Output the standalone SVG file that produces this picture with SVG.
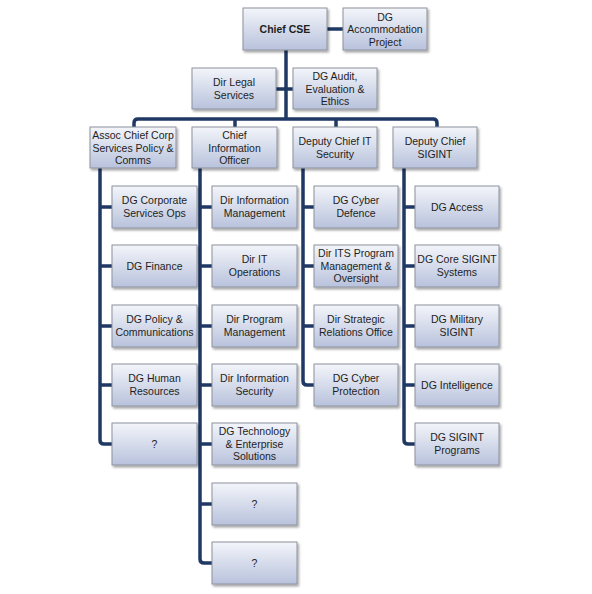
<svg xmlns="http://www.w3.org/2000/svg" width="592" height="594" viewBox="0 0 592 594">
<defs>
<linearGradient id="g" x1="0" y1="0" x2="0" y2="1">
<stop offset="0" stop-color="#f3f5fa"/>
<stop offset="1" stop-color="#b8c2dc"/>
</linearGradient>
<filter id="sh" x="-10%" y="-10%" width="130%" height="140%">
<feDropShadow dx="1.5" dy="2" stdDeviation="1.2" flood-color="#000" flood-opacity="0.35"/>
</filter>
</defs>
<style>
rect.b{fill:url(#g);stroke:#8c929c;stroke-width:1;filter:url(#sh)}
text{font-family:"Liberation Sans",Arial,sans-serif;font-size:10.5px;fill:#1e1e1e;text-anchor:middle}
text.bold{font-weight:bold}
.c path,.c line{stroke:#1f3864;stroke-width:3.5;fill:none}
</style>
<rect width="592" height="594" fill="#fff"/>
<g class="c" id="connectors">
<line x1="327" y1="29" x2="343" y2="29"/>
<line x1="286" y1="50" x2="286" y2="120"/>
<line x1="276" y1="89" x2="293" y2="89"/>
<path d="M134 128 V123 Q134 119 138 119 H433 Q437 119 437 123 V128"/>
<line x1="235" y1="119" x2="235" y2="128"/>
<line x1="336" y1="119" x2="336" y2="128"/>
<path d="M100 168 V440 Q100 444 104 444 H112 M100 207 H112 M100 266 H112 M100 326 H112 M100 385 H112"/>
<path d="M200 168 V559 Q200 563 204 563 H212 M200 207 H212 M200 266 H212 M200 326 H212 M200 385 H212 M200 444 H212 M200 504 H212"/>
<path d="M303 168 V381 Q303 385 307 385 H314 M303 207 H314 M303 266 H314 M303 326 H314"/>
<path d="M404 168 V440 Q404 444 408 444 H415 M404 207 H415 M404 266 H415 M404 326 H415 M404 385 H415"/>
</g>
<g id="chief-cse"><rect class="b" x="243" y="8" width="84" height="42"/><text class="bold" x="285" y="33">Chief CSE</text></g>
<g id="dg-accommodation"><rect class="b" x="343" y="8" width="84" height="42"/><text x="385" y="20.5">DG</text><text x="385" y="33">Accommodation</text><text x="385" y="45.5">Project</text></g>
<g id="dir-legal"><rect class="b" x="192" y="68" width="84" height="41"/><text x="234" y="86">Dir Legal</text><text x="234" y="98.5">Services</text></g>
<g id="dg-audit"><rect class="b" x="293" y="68" width="84" height="41"/><text x="335" y="80">DG Audit,</text><text x="335" y="92.5">Evaluation &amp;</text><text x="335" y="105">Ethics</text></g>
<g id="assoc-chief"><rect class="b" x="90" y="127" width="86" height="41"/><text x="133" y="139">Assoc Chief Corp</text><text x="133" y="151.5">Services Policy &amp;</text><text x="133" y="164">Comms</text></g>
<g id="cio"><rect class="b" x="192" y="127" width="85" height="41"/><text x="234.5" y="139">Chief</text><text x="234.5" y="151.5">Information</text><text x="234.5" y="164">Officer</text></g>
<g id="dc-it-security"><rect class="b" x="293" y="127" width="84" height="41"/><text x="335" y="145">Deputy Chief IT</text><text x="335" y="157.5">Security</text></g>
<g id="dc-sigint"><rect class="b" x="393" y="127" width="84" height="41"/><text x="435" y="145">Deputy Chief</text><text x="435" y="157.5">SIGINT</text></g>

<g id="dg-corp-ops"><rect class="b" x="112" y="186" width="85" height="42"/><text x="154.5" y="204">DG Corporate</text><text x="154.5" y="216.5">Services Ops</text></g>
<g id="dg-finance"><rect class="b" x="112" y="245" width="85" height="42"/><text x="154.5" y="270">DG Finance</text></g>
<g id="dg-policy"><rect class="b" x="112" y="305" width="85" height="42"/><text x="154.5" y="323">DG Policy &amp;</text><text x="154.5" y="335.5">Communications</text></g>
<g id="dg-hr"><rect class="b" x="112" y="364" width="85" height="42"/><text x="154.5" y="382">DG Human</text><text x="154.5" y="394.5">Resources</text></g>
<g id="col1-unknown"><rect class="b" x="112" y="423" width="85" height="42"/><text x="154.5" y="448">?</text></g>

<g id="dir-info-mgmt"><rect class="b" x="212" y="186" width="85" height="42"/><text x="254.5" y="204">Dir Information</text><text x="254.5" y="216.5">Management</text></g>
<g id="dir-it-ops"><rect class="b" x="212" y="245" width="85" height="42"/><text x="254.5" y="263">Dir IT</text><text x="254.5" y="275.5">Operations</text></g>
<g id="dir-program-mgmt"><rect class="b" x="212" y="305" width="85" height="42"/><text x="254.5" y="323">Dir Program</text><text x="254.5" y="335.5">Management</text></g>
<g id="dir-info-sec"><rect class="b" x="212" y="364" width="85" height="42"/><text x="254.5" y="382">Dir Information</text><text x="254.5" y="394.5">Security</text></g>
<g id="dg-tech"><rect class="b" x="212" y="423" width="85" height="42"/><text x="254.5" y="435">DG Technology</text><text x="254.5" y="447.5">&amp; Enterprise</text><text x="254.5" y="460">Solutions</text></g>
<g id="col2-unknown-1"><rect class="b" x="212" y="483" width="85" height="42"/><text x="254.5" y="508">?</text></g>
<g id="col2-unknown-2"><rect class="b" x="212" y="542" width="85" height="42"/><text x="254.5" y="567">?</text></g>

<g id="dg-cyber-defence"><rect class="b" x="314" y="186" width="84" height="42"/><text x="356" y="204">DG Cyber</text><text x="356" y="216.5">Defence</text></g>
<g id="dir-its-program"><rect class="b" x="314" y="245" width="84" height="42"/><text x="356" y="257">Dir ITS Program</text><text x="356" y="269.5">Management &amp;</text><text x="356" y="282">Oversight</text></g>
<g id="dir-strategic"><rect class="b" x="314" y="305" width="84" height="42"/><text x="356" y="323">Dir Strategic</text><text x="356" y="335.5">Relations Office</text></g>
<g id="dg-cyber-protection"><rect class="b" x="314" y="364" width="84" height="42"/><text x="356" y="382">DG Cyber</text><text x="356" y="394.5">Protection</text></g>

<g id="dg-access"><rect class="b" x="415" y="186" width="84" height="42"/><text x="457" y="211">DG Access</text></g>
<g id="dg-core-sigint"><rect class="b" x="415" y="245" width="84" height="42"/><text x="457" y="263">DG Core SIGINT</text><text x="457" y="275.5">Systems</text></g>
<g id="dg-military-sigint"><rect class="b" x="415" y="305" width="84" height="42"/><text x="457" y="323">DG Military</text><text x="457" y="335.5">SIGINT</text></g>
<g id="dg-intelligence"><rect class="b" x="415" y="364" width="84" height="42"/><text x="457" y="389">DG Intelligence</text></g>
<g id="dg-sigint-programs"><rect class="b" x="415" y="423" width="84" height="42"/><text x="457" y="441">DG SIGINT</text><text x="457" y="453.5">Programs</text></g>
</svg>
